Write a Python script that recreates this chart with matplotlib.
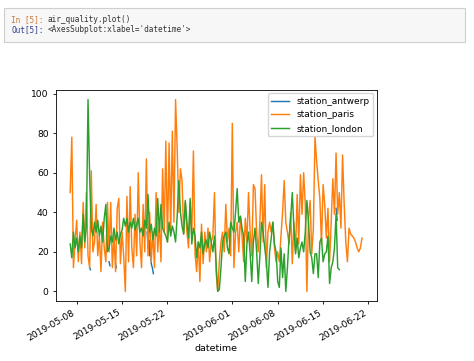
import numpy as np
import pandas as pd
import matplotlib
matplotlib.use("Agg")
import matplotlib.pyplot as plt
import matplotlib.dates as mdates
from matplotlib.patches import Rectangle

# Werte alle 6 Stunden, ab 2019-05-07 00:00
times = pd.date_range("2019-05-07", "2019-06-21", freq="6h")

station_paris = [
    50, 78, 12, 25,  36, 15, 30, 14,  45, 22, 50, 18,  12, 61, 20, 25,
    44, 18, 28, 10,  35, 22, 15, 45,  20, 45, 12, 28,  10, 42, 47, 14,
    30, 18, 0, 48,   15, 53, 22, 12,  39, 18, 60, 25,  12, 44, 20, 67,
    18, 40, 15, 30,  12, 50, 20, 35,  15, 62, 30, 76,  25, 75, 30, 81,
    35, 97, 72, 40,  62, 56, 29, 45,  30, 22, 45, 28,  71, 19, 10, 25,
    5, 34, 14, 30,   20, 32, 15, 25,  28, 50, 10, 0,   15, 25, 30, 20,
    44, 25, 32, 18,  85, 12, 30, 35,  20, 38, 28, 15,  37, 25, 50, 30,
    18, 54, 52, 30,  20, 35, 59, 25,  54, 12, 30, 35,  30, 35, 22, 15,
    20, 15, 28, 40,  56, 35, 30, 24,  40, 14, 35, 20,  49, 24, 59, 39,
    60, 44, 0, 37,   46, 19, 32, 78,  66, 56, 47, 24,  54, 44, 27, 42,
    15, 35, 57, 39,  70, 39, 50, 32,  69, 44, 25, 15,  32, 29, 28, 27,
    25, 22, 20, 22,  27,
]

station_london = [
    24, 17, 30, 22,  27, 20, 28, 22,  39, 25, 33, 97,  58, 32, 28, 35,
    30, 36, 28, 33,  25, 37, 44, 20,  22, 28, 25, 32,  26, 30, 24, 29,
    31, 37, 33, 37,  30, 35, 32, 37,  31, 34, 37, 30,  32, 28, 36, 32,
    49, 30, 34, 26,  32, 28, 47, 30,  44, 32, 30, 28,  25, 35, 28, 33,
    30, 25, 38, 56,  40, 33, 29, 46,  35, 27, 47, 24,  32, 28, 17, 25,
    22, 30, 19, 24,  26, 22, 30, 25,  20, 28, 14, 0,   1, 12, 25, 28,
    30, 22, 19, 35,  32, 30, 40, 52,  35, 38, 32, 28,  5, 24, 30, 19,
    5, 25, 32, 20,   4, 18, 35, 30,   22, 15, 2, 20,   27, 35, 24, 20,
    5, 2, 22, 7,     19, 0, 12, 27,   37, 50, 32, 19,  27, 17, 22, 25,
    20, 30, 46, 35,  20, 17, 9, 19,   19, 7, 25, 27,   15, 19, 20, 28,
    4, 12, 15, 22,   39, 12, 11,
]
station_london = station_london + [np.nan] * (len(times) - len(station_london))

# Antwerpen: nur einzelne Stücke sichtbar
antwerp_times = pd.to_datetime([
    "2019-05-10 00:00", "2019-05-10 03:00", "2019-05-10 04:00",
    "2019-05-13 00:00", "2019-05-13 03:00", "2019-05-13 04:00",
    "2019-05-14 00:00", "2019-05-14 03:00", "2019-05-14 04:00",
    "2019-05-18 21:00", "2019-05-19 00:00", "2019-05-19 03:00",
    "2019-05-19 06:00", "2019-05-19 09:00", "2019-05-19 12:00",
    "2019-05-19 16:00", "2019-05-19 20:00", "2019-05-19 21:00",
    "2019-06-17 00:00", "2019-06-17 04:00",
])
antwerp_values = [
    12, 11, np.nan,
    15, 13, np.nan,
    14, 12, np.nan,
    30, 22, 26, 18, 25, 14, 12, 9, np.nan,
    42, 36,
]

fig = plt.figure(figsize=(4.74, 3.61), dpi=100)

# Notebook-Zelle oben
fig.patches.append(Rectangle((4 / 474, 1 - 42 / 361), 461 / 474, 34 / 361,
                             transform=fig.transFigure, facecolor="#f7f7f7",
                             edgecolor="#cfcfcf", linewidth=0.8))
mono = "DejaVu Sans Mono"
fig.text(11 / 474, 1 - 19.5 / 361, "In [5]:", family=mono, fontsize=5.6,
         color="#c8793a", va="center")
fig.text(48 / 474, 1 - 19.5 / 361, "air_quality.plot()", family=mono,
         fontsize=5.6, color="#333333", va="center")
fig.text(11 / 474, 1 - 30 / 361, "Out[5]:", family=mono, fontsize=5.6,
         color="#2d3e8c", va="center")
fig.text(48 / 474, 1 - 30 / 361, "<AxesSubplot:xlabel='datetime'>", family=mono,
         fontsize=5.6, color="#333333", va="center")

ax = fig.add_axes([55.6 / 474, 60 / 361, 321 / 474, 211 / 361])
lw = 1.05
ax.plot(antwerp_times, antwerp_values, color="tab:blue", lw=lw, label="station_antwerp")
ax.plot(times, station_paris, color="tab:orange", lw=lw, label="station_paris")
ax.plot(times, station_london, color="tab:green", lw=lw, label="station_london")

ax.set_xlim(pd.Timestamp("2019-05-04 18:00"), pd.Timestamp("2019-06-23 06:00"))
ax.xaxis.set_major_locator(mdates.DayLocator(bymonthday=[1, 8, 15, 22]))
ax.xaxis.set_major_formatter(mdates.DateFormatter("%Y-%m-%d"))
for lab in ax.get_xticklabels():
    lab.set_rotation(30)
    lab.set_ha("right")
ax.tick_params(labelsize=6.6, width=0.6, length=2.5, pad=2.5)
for sp in ax.spines.values():
    sp.set_linewidth(0.6)
ax.set_xlabel("datetime", fontsize=6.8, labelpad=1)
ax.legend(loc="upper right", fontsize=6.5, borderaxespad=0.35)

fig.savefig("out.png", dpi=100)
